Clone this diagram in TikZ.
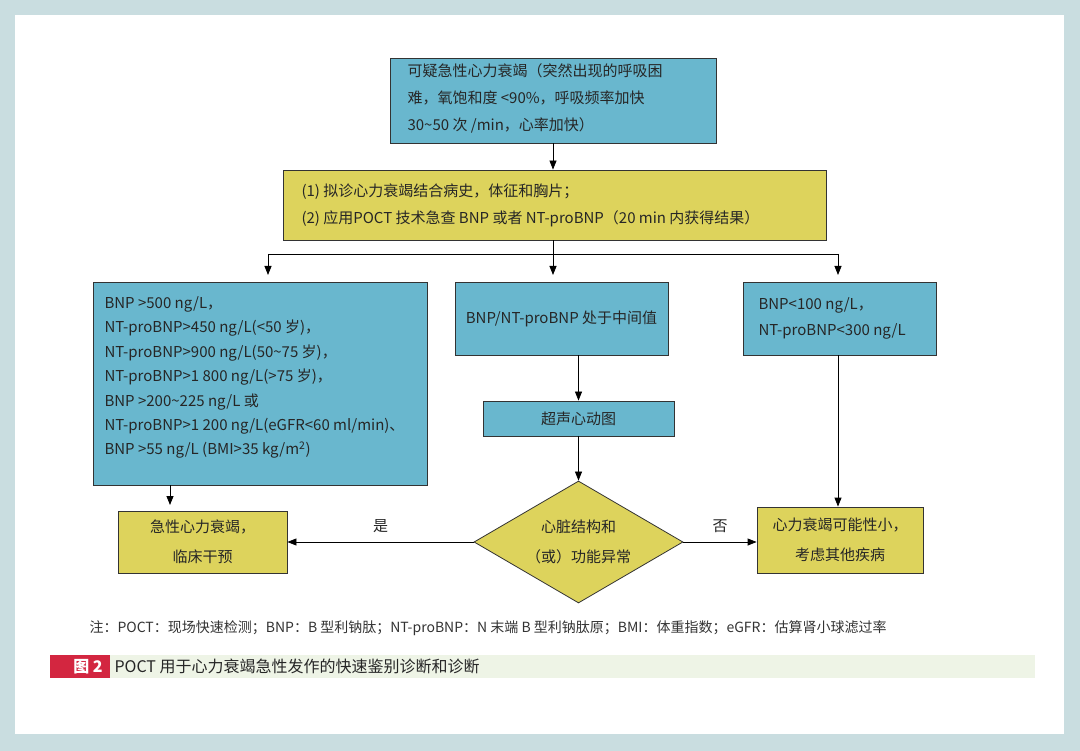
\documentclass[tikz,border=0pt]{standalone}
\usepackage{fontspec}
\setmainfont{Noto Sans CJK SC}
\usetikzlibrary{shapes.geometric,arrows.meta}
\definecolor{bb}{HTML}{69B7CE}
\definecolor{yy}{HTML}{DDD35C}
\definecolor{frame}{HTML}{C9DDE0}
\definecolor{capg}{HTML}{EEF4E6}
\definecolor{capr}{HTML}{D32640}
\begin{document}
\begin{tikzpicture}[x=1pt,y=-1pt,
 blue/.style={draw=black!80,line width=0.8pt,fill=bb,inner sep=0pt},
 yel/.style={draw=black!80,line width=0.8pt,fill=yy,inner sep=0pt},
 arr/.style={line width=0.8pt,-{Triangle[length=9pt,width=7pt]}},
 ln/.style={line width=0.8pt},
 txt/.style={font=\fontsize{15}{26}\selectfont,align=left,text=black!85}]
\useasboundingbox (0,0) rectangle (1080,751);
\fill[frame] (0,0) rectangle (1080,751);
\fill[white] (15,15) rectangle (1064,734);
\node[blue,minimum width=326pt,minimum height=85pt] (top) at (553,100.5) {};
\node[txt,anchor=north west,font=\fontsize{15}{27}\selectfont] at (404,60) {可疑急性心力衰竭（突然出现的呼吸困\\难，氧饱和度 <90\%，呼吸频率加快\\30\textasciitilde50 次 /min，心率加快）};
\node[yel,minimum width=543pt,minimum height=70pt] (y1) at (554.5,205) {};
\node[txt,anchor=west,font=\fontsize{15}{27}\selectfont] at (298,205) {(1) 拟诊心力衰竭结合病史，体征和胸片；\\(2) 应用POCT 技术急查 BNP 或者 NT-proBNP（20 min 内获得结果）};
\node[blue,minimum width=334pt,minimum height=203pt] (L) at (260,383.5) {};
\node[txt,anchor=north west,font=\fontsize{15}{24.4}\selectfont] at (101,293) {BNP >500 ng/L，\\NT-proBNP>450 ng/L(<50 岁)，\\NT-proBNP>900 ng/L(50\textasciitilde75 岁)，\\NT-proBNP>1 800 ng/L(>75 岁)，\\BNP >200\textasciitilde225 ng/L 或\\NT-proBNP>1 200 ng/L(eGFR<60 ml/min)、\\BNP >55 ng/L (BMI>35 kg/m\textsuperscript{2})};
\node[blue,minimum width=213pt,minimum height=73pt,txt,align=center] (M) at (561.5,318.5) {BNP/NT-proBNP 处于中间值};
\node[blue,minimum width=193pt,minimum height=73pt] (R) at (839.5,318.5) {};
\node[txt,anchor=west] at (755,318.5) {BNP<100 ng/L，\\NT-proBNP<300 ng/L};
\node[blue,minimum width=191pt,minimum height=35pt,txt,align=center] (U) at (578.5,418.5) {超声心动图};
\node[yel,diamond,minimum width=209pt,minimum height=122pt] (D) at (578.5,542) {};
\node[txt,align=center,font=\fontsize{15}{30}\selectfont] at (D.center) {心脏结构和\\（或）功能异常};
\node[yel,minimum width=169pt,minimum height=62pt,txt,align=center,font=\fontsize{15}{30}\selectfont] (LY) at (202.5,542) {急性心力衰竭，\\临床干预};
\node[yel,minimum width=166pt,minimum height=66pt,txt,align=center,font=\fontsize{15}{30}\selectfont] (RY) at (840,540) {心力衰竭可能性小，\\考虑其他疾病};
\coordinate (j) at (553,254);
\coordinate (jl) at (268,254);
\coordinate (jr) at (838,254);
\draw[arr] (top.south) -- (y1.north -| top.south);
\draw[ln] (y1.south -| j) -- (j);
\draw[ln] (jl) -- (jr);
\draw[arr] (jl) -- (268,275);
\draw[arr] (j) -- (553,275);
\draw[arr] (jr) -- (838,275);
\draw[arr] (L.south -| 170,0) -- (170,505);
\draw[arr] (M.south -| U.north) -- (U.north);
\draw[arr] (U.south) -- (D.north);
\draw[arr] (R.south -| 838,0) -- (RY.north -| 838,0);
\draw[arr] (D.west) -- (LY.east) node[midway,above=6pt,txt] {是};
\draw[arr] (D.east) -- (RY.west |- D.east) node[midway,above=6pt,txt] {否};
\node[anchor=west,font=\fontsize{14}{16}\selectfont,text=black!80] at (86,628) {注：POCT：现场快速检测；BNP：B 型利钠肽；NT-proBNP：N 末端 B 型利钠肽原；BMI：体重指数；eGFR：估算肾小球滤过率};
\fill[capg] (110,655) rectangle (1035,678);
\fill[capr] (50,655) rectangle (110,678);
\node[text=white,font=\fontsize{16}{18}\selectfont\bfseries] at (88,666.5) {图 2};
\node[anchor=west,font=\fontsize{16}{18}\selectfont,text=black!85] at (111,666.5) {POCT 用于心力衰竭急性发作的快速鉴别诊断和诊断};
\end{tikzpicture}
\end{document}
